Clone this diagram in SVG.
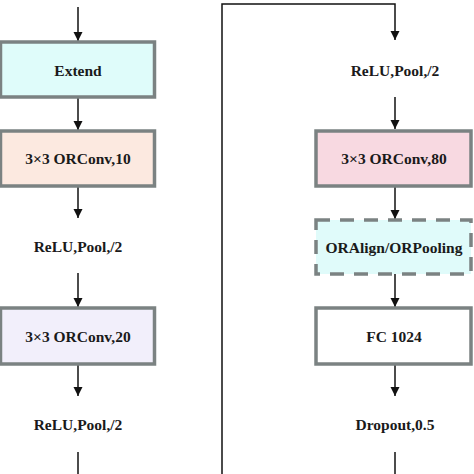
<svg xmlns="http://www.w3.org/2000/svg" width="474" height="474" viewBox="0 0 474 474">
<defs>
<marker id="ah" markerWidth="10" markerHeight="10" refX="9" refY="5" orient="auto" markerUnits="userSpaceOnUse">
<path d="M0,0.5 L9,5 L0,9.5 Z" fill="#111"/>
</marker>
<style>
.box{stroke:#7b8282;stroke-width:3.5}
.dash{stroke-dasharray:14,10}
.t{font-family:"Liberation Serif","Times New Roman",serif;font-weight:bold;font-size:15.5px;fill:#1a1a1a;text-anchor:middle;dominant-baseline:central}
.c{fill:none;stroke:#111;stroke-width:1.5}
</style>
</defs>
<rect width="474" height="474" fill="#fff"/>
<g id="connectors">
<path class="c" d="M78,7 V41" marker-end="url(#ah)"/>
<path class="c" d="M78,98 V130" marker-end="url(#ah)"/>
<path class="c" d="M78,186 V218" marker-end="url(#ah)"/>
<path class="c" d="M78,273 V307" marker-end="url(#ah)"/>
<path class="c" d="M78,364 V396" marker-end="url(#ah)"/>
<path class="c" d="M78,452 V474"/>
<path class="c" d="M222,474 V4 H395 V40" marker-end="url(#ah)"/>
<path class="c" d="M395,97 V129" marker-end="url(#ah)"/>
<path class="c" d="M395,186 V219" marker-end="url(#ah)"/>
<path class="c" d="M395,273 V307" marker-end="url(#ah)"/>
<path class="c" d="M395,364 V396" marker-end="url(#ah)"/>
<path class="c" d="M395,452 V474"/>
</g>
<g id="extend"><rect class="box" x="0.5" y="42" width="154" height="55" fill="#dffcfa"/><text class="t" x="78" y="70">Extend</text></g>
<g id="orconv10"><rect class="box" x="0.5" y="131" width="154" height="55" fill="#fce9e0"/><text class="t" x="78" y="158">3×3 ORConv,10</text></g>
<g id="relu1"><text class="t" x="78" y="246">ReLU,Pool,/2</text></g>
<g id="orconv20"><rect class="box" x="0.5" y="308" width="154" height="56" fill="#f2effb"/><text class="t" x="78" y="336">3×3 ORConv,20</text></g>
<g id="relu2"><text class="t" x="78" y="424">ReLU,Pool,/2</text></g>
<g id="relu3"><text class="t" x="395" y="70">ReLU,Pool,/2</text></g>
<g id="orconv80"><rect class="box" x="316" y="131" width="155" height="55" fill="#f8d9e1"/><text class="t" x="394" y="158">3×3 ORConv,80</text></g>
<g id="oralign"><rect class="box dash" x="316" y="220" width="155" height="54" fill="#e0fbfa"/><text class="t" x="394" y="247">ORAlign/ORPooling</text></g>
<g id="fc1024"><rect class="box" x="316" y="308" width="155" height="56" fill="#fff"/><text class="t" x="394" y="336">FC 1024</text></g>
<g id="dropout"><text class="t" x="395" y="424">Dropout,0.5</text></g>
</svg>
